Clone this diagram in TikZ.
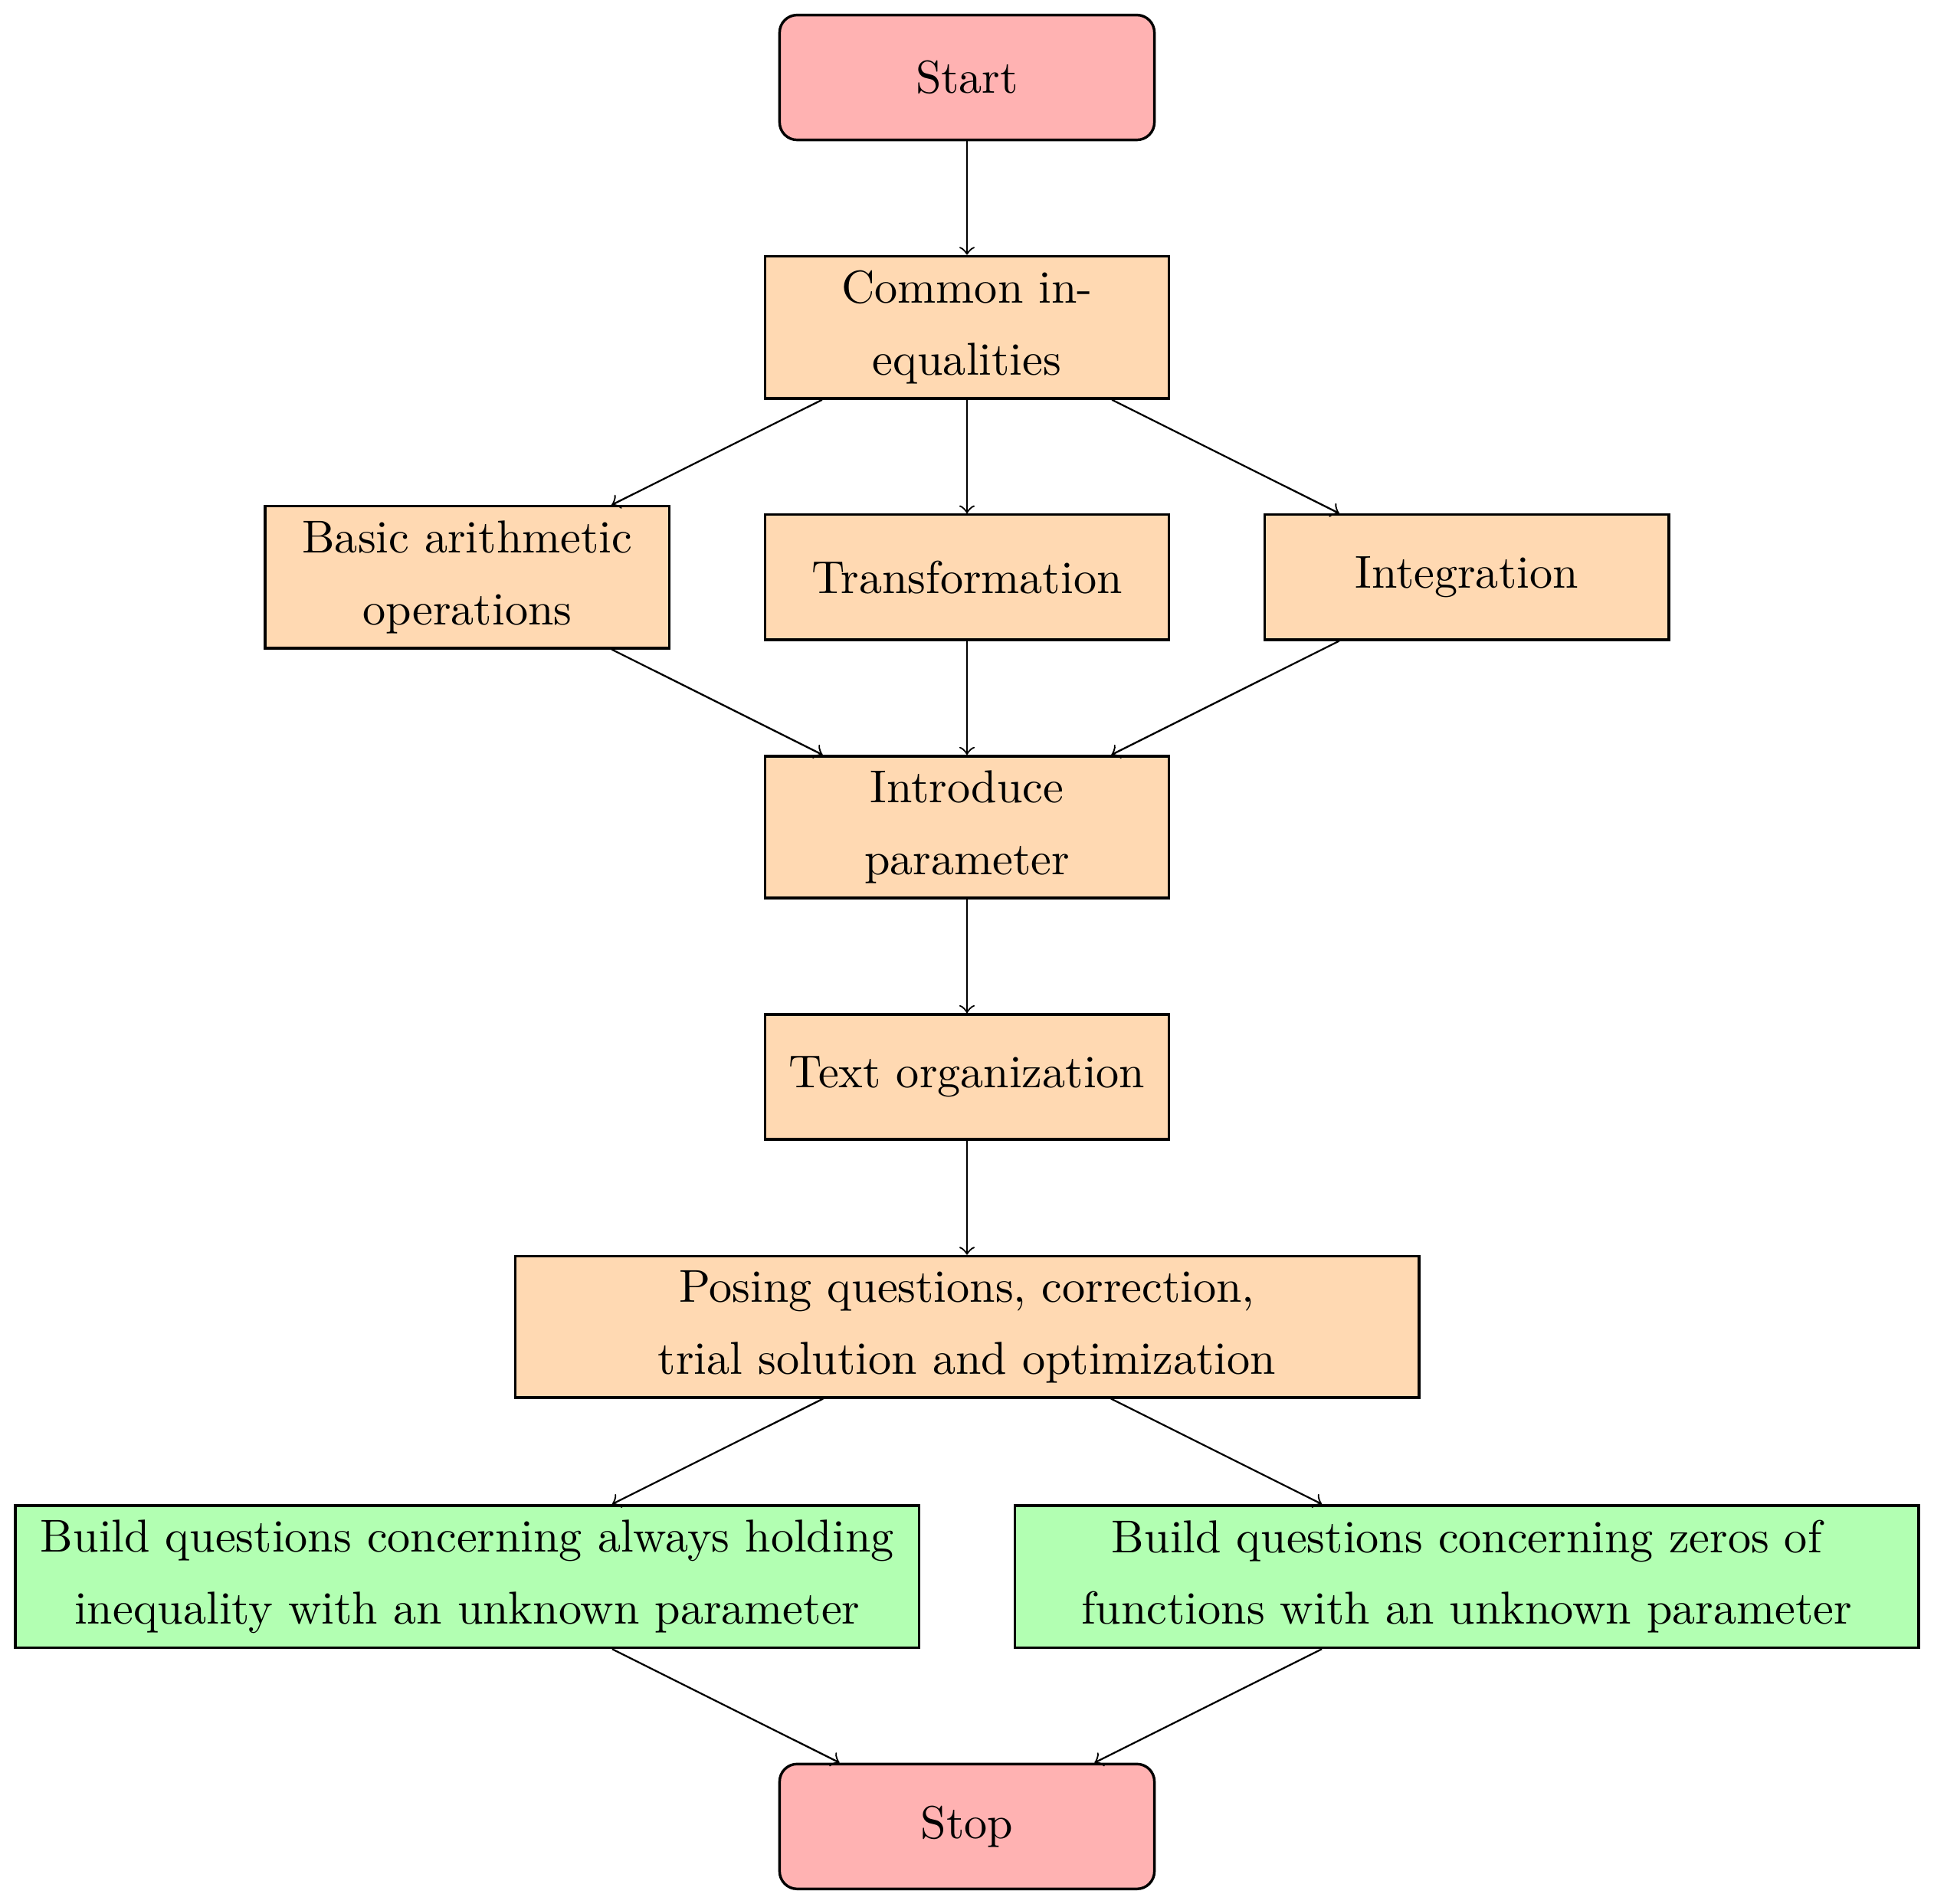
\documentclass[tikz,border=0pt]{standalone}

\begin{document}
\begin{tikzpicture}[
		startstop/.style={rectangle, rounded corners, minimum width=3cm, minimum height=1cm, align=center, draw=black, semithick, fill=red!30},
		process/.style={rectangle, minimum width=3cm, minimum height=1cm, text width=3cm, align=center, draw=black, semithick, fill=orange!30},
		wideprocess/.style={process, text width=7cm},
		build/.style={wideprocess, fill=green!30},
		font=\fontsize{10.5}{16.3}\selectfont
	]
	\useasboundingbox (-7.74, 0.62) rectangle (7.74, -14.62);
	\node (start) at (0, 0) [startstop] {Start};
	\node (common) at (0, -2) [process] {Common in-\\equalities};
	\node (basic) at (-4, -4) [process] {Basic arithmetic\\operations};
	\node (transform) at (0, -4) [process] {Transformation};
	\node (integr) at (4, -4) [process] {Integration};
	\node (param) at (0, -6) [process] {Introduce\\parameter};
	\node (textorg) at (0, -8) [process] {Text organization};
	\node (posing) at (0, -10) [wideprocess] {Posing questions, correction,\\trial solution and optimization};
	\node (always) at (-4, -12) [build] {Build questions concerning always holding\\inequality with an unknown parameter};
	\node (zeros) at (4, -12) [build] {Build questions concerning zeros of\\functions with an unknown parameter};
	\node (stop) at (0, -14) [startstop] {Stop};
	\draw[->] (start)--(common);
	\draw[->] (common)--(basic);
	\draw[->] (common)--(transform);
	\draw[->] (common)--(integr);
	\draw[->] (basic)--(param);
	\draw[->] (transform)--(param);
	\draw[->] (integr)--(param);
	\draw[->] (param)--(textorg);
	\draw[->] (textorg)--(posing);
	\draw[->] (posing)--(always);
	\draw[->] (posing)--(zeros);
	\draw[->] (always)--(stop);
	\draw[->] (zeros)--(stop);
\end{tikzpicture}
\end{document}
